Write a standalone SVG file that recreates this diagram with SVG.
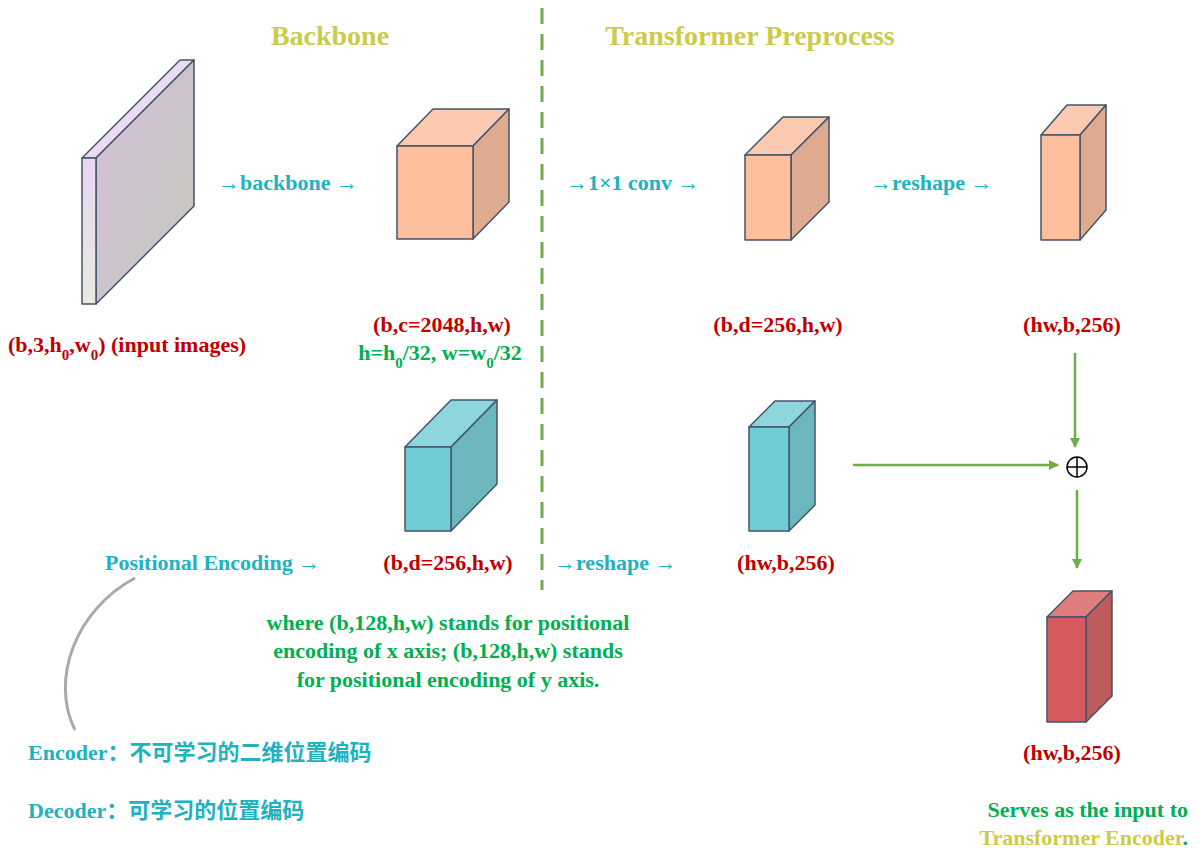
<svg xmlns="http://www.w3.org/2000/svg" width="1200" height="861" viewBox="0 0 1200 861">
<style>
text{font-family:"Liberation Serif","Noto Sans CJK SC",serif;font-weight:bold;font-size:22px}
.r{fill:#c00000}.t{fill:#20b2bf}.g{fill:#00b050}.y{fill:#cccb4a}
.e{stroke:#44546a;stroke-width:1.5;stroke-linejoin:round}
.c{stroke:#70ad47;stroke-width:2.5;fill:none}
</style>
<defs>
<linearGradient id="gf" x1="0" y1="0" x2="0" y2="1"><stop offset="0" stop-color="#e8d6f2"/><stop offset="1" stop-color="#e9e9e1"/></linearGradient>
<linearGradient id="gs" x1="0" y1="0" x2="1" y2="1"><stop offset="0" stop-color="#d3c0da"/><stop offset="1" stop-color="#c6c8bc"/></linearGradient>
<marker id="a" viewBox="0 0 10 10" refX="9" refY="5" markerWidth="4" markerHeight="4" orient="auto"><path d="M0,0L10,5L0,10z" fill="#70ad47"/></marker>
</defs>
<rect width="1200" height="861" fill="#fff"/>
<text x="330" y="45" class="y" font-size="28" text-anchor="middle" style="font-size:28px">Backbone</text>
<text x="750" y="45" class="y" text-anchor="middle" style="font-size:28px">Transformer Preprocess</text>
<g id="input"><polygon class="e" points="82,158 180,60 194,60 96,158" fill="#ecdcf3"/><polygon class="e" points="96,158 194,60 194,206 96,304" fill="url(#gs)"/><rect class="e" x="82" y="158" width="14" height="146" fill="url(#gf)"/></g>
<g id="cube1"><polygon class="e" points="397,146 433,109 509,109 473,146" fill="#fccab0"/><polygon class="e" points="473,146 509,109 509,202 473,239" fill="#dfab90"/><rect class="e" x="397" y="146" width="76" height="93" fill="#fdbf9e"/></g>
<g id="cube2"><polygon class="e" points="745,155 783,117 829,117 791,155" fill="#fccab0"/><polygon class="e" points="791,155 829,117 829,202 791,240" fill="#dfab90"/><rect class="e" x="745" y="155" width="46" height="85" fill="#fdbf9e"/></g>
<g id="cube3"><polygon class="e" points="1041,135 1067,105 1106,105 1080,135" fill="#fccab0"/><polygon class="e" points="1080,135 1106,105 1106,210 1080,240" fill="#dfab90"/><rect class="e" x="1041" y="135" width="39" height="105" fill="#fdbf9e"/></g>
<g id="pos1"><polygon class="e" points="405,447 451,400 497,400 451,447" fill="#8dd6de"/><polygon class="e" points="451,447 497,400 497,484 451,531" fill="#6cb6bd"/><rect class="e" x="405" y="447" width="46" height="84" fill="#71cdd5"/></g>
<g id="pos2"><polygon class="e" points="749,427 775,401 815,401 789,427" fill="#8dd6de"/><polygon class="e" points="789,427 815,401 815,505 789,531" fill="#6cb6bd"/><rect class="e" x="749" y="427" width="40" height="104" fill="#71cdd5"/></g>
<g id="out"><polygon class="e" points="1047,617 1073,591 1112,591 1086,617" fill="#df7c7e"/><polygon class="e" points="1086,617 1112,591 1112,696 1086,722" fill="#bd5a5b"/><rect class="e" x="1047" y="617" width="39" height="105" fill="#d65b5e"/></g>
<g id="plus"><circle cx="1077" cy="467" r="10" fill="#fff" stroke="#000" stroke-width="1.5"/><path d="M1067,467H1087M1077,457V477" stroke="#000" stroke-width="1.5"/></g>
<g id="connectors">
<path d="M542,8V590" stroke="#70ad47" stroke-width="3" stroke-dasharray="16,10"/>
<path class="c" d="M1075,353V447" marker-end="url(#a)"/>
<path class="c" d="M853,465H1058" marker-end="url(#a)"/>
<path class="c" d="M1077,490V568" marker-end="url(#a)"/>
<path d="M135,578C75,610 50,680 75,730" stroke="#aaa" stroke-width="3" fill="none"/>
</g>
<text x="218" y="190" class="t">→backbone →</text>
<text x="566" y="190" class="t">→1×1 conv →</text>
<text x="870" y="190" class="t">→reshape →</text>
<text x="8" y="352" class="r">(b,3,h<tspan baseline-shift="sub" font-size="15">0</tspan>,w<tspan baseline-shift="sub" font-size="15">0</tspan>) (input images)</text>
<text x="442" y="332" class="r" text-anchor="middle">(b,c=2048,h,w)</text>
<text x="440" y="360" class="g" text-anchor="middle">h=h<tspan baseline-shift="sub" font-size="15">0</tspan>/32, w=w<tspan baseline-shift="sub" font-size="15">0</tspan>/32</text>
<text x="778" y="332" class="r" text-anchor="middle">(b,d=256,h,w)</text>
<text x="1072" y="332" class="r" text-anchor="middle">(hw,b,256)</text>
<text x="105" y="570" class="t">Positional Encoding →</text>
<text x="448" y="570" class="r" text-anchor="middle">(b,d=256,h,w)</text>
<text x="554" y="570" class="t">→reshape →</text>
<text x="786" y="570" class="r" text-anchor="middle">(hw,b,256)</text>
<text x="448" y="630" class="g" text-anchor="middle">where (b,128,h,w) stands for positional</text>
<text x="448" y="658" class="g" text-anchor="middle">encoding of x axis;  (b,128,h,w) stands</text>
<text x="448" y="687" class="g" text-anchor="middle">for positional encoding of y axis.</text>
<text x="1072" y="760" class="r" text-anchor="middle">(hw,b,256)</text>
<text x="28" y="760" class="t">Encoder：不可学习的二维位置编码</text>
<text x="28" y="818" class="t">Decoder：可学习的位置编码</text>
<text x="1188" y="817" class="g" text-anchor="end">Serves as the input to</text>
<text x="1188" y="845" text-anchor="end"><tspan class="y">Transformer Encoder</tspan><tspan class="g">.</tspan></text>
</svg>
